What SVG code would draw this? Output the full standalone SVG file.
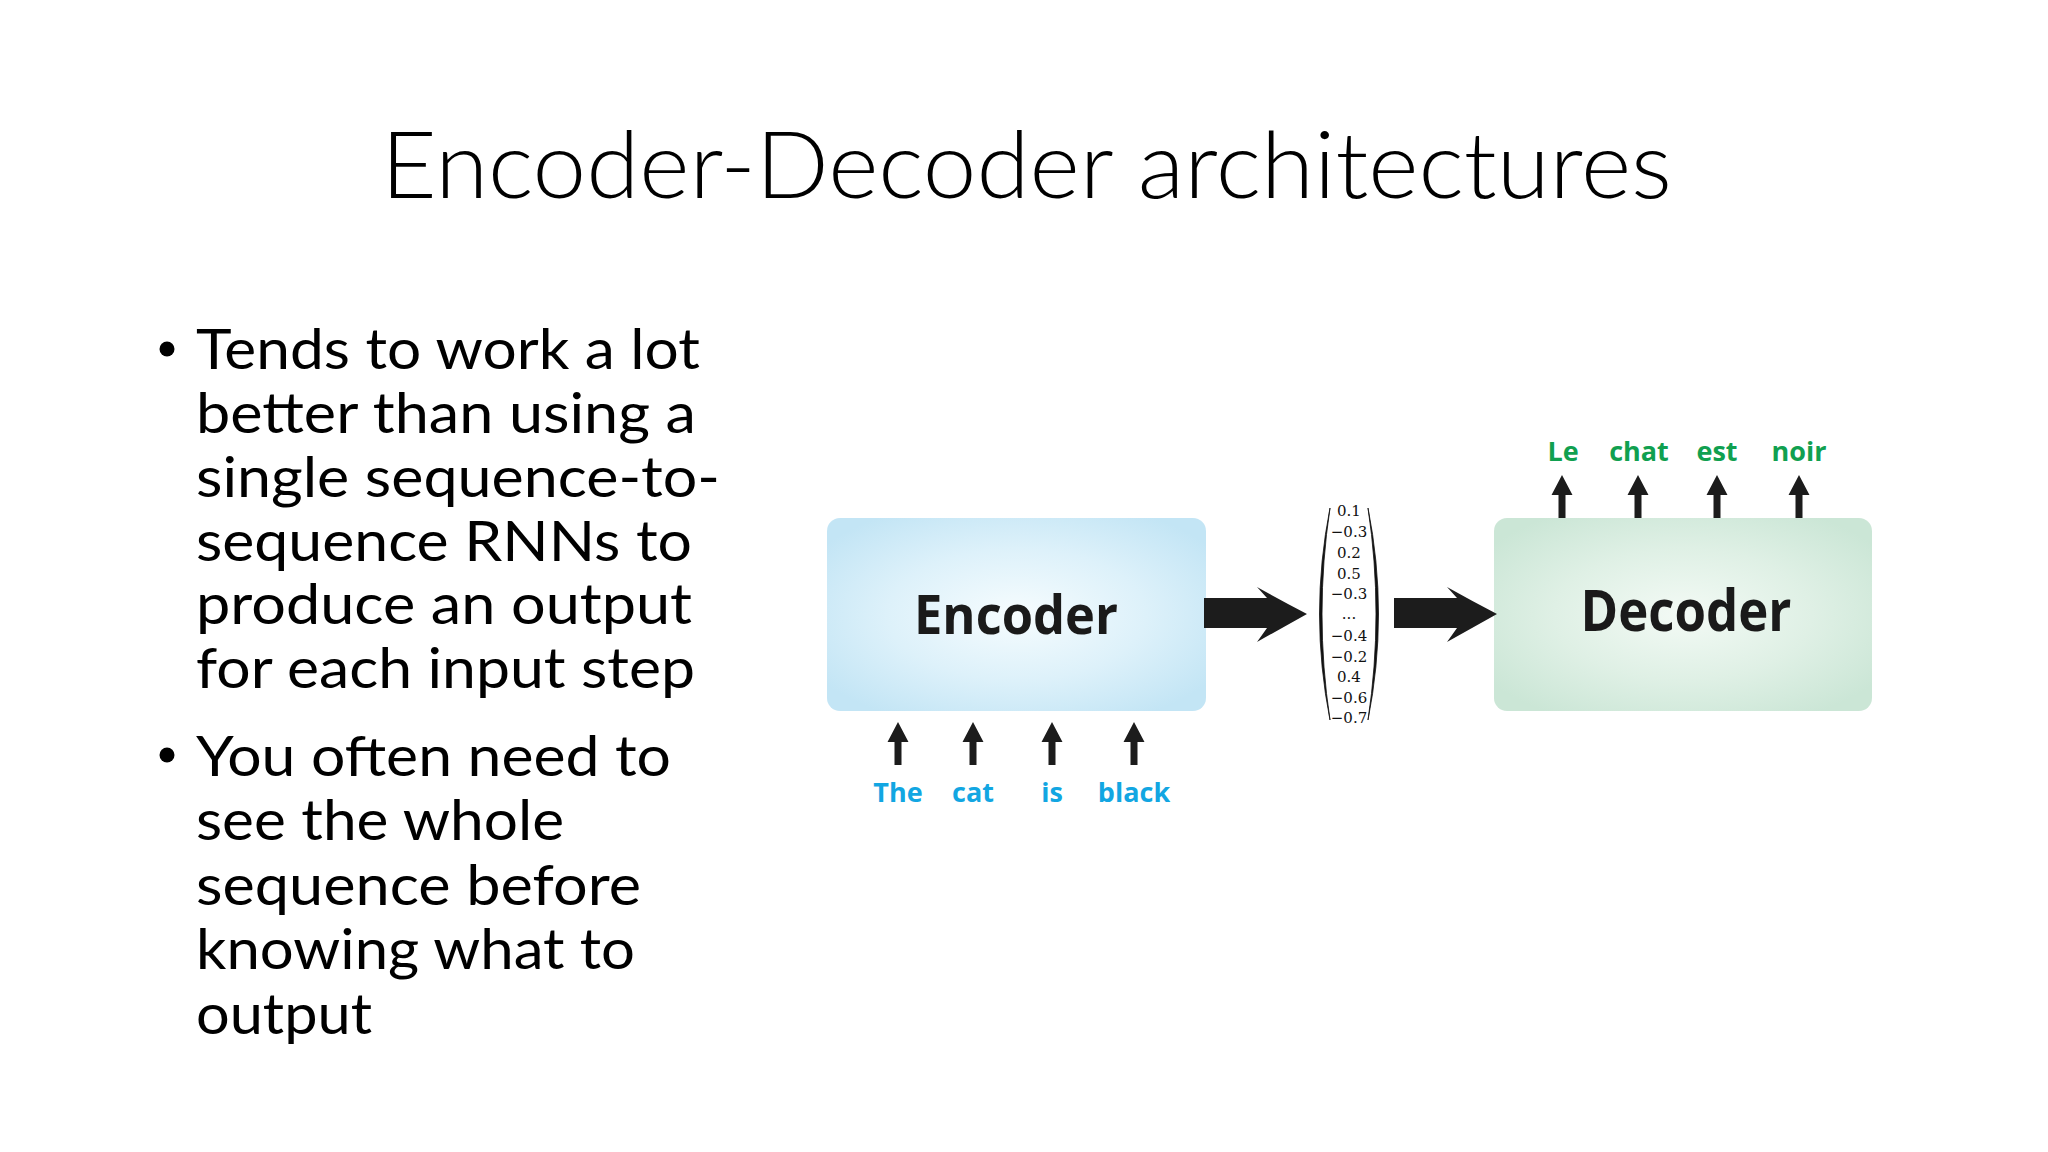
<svg xmlns="http://www.w3.org/2000/svg" width="2048" height="1152" viewBox="0 0 2048 1152">
<defs>
<style>
.title{font-family:Lato,"Noto Sans","Liberation Sans",sans-serif;font-size:92px;font-weight:300;fill:#000}
.body{font-family:Lato,"Noto Sans","Liberation Sans",sans-serif;font-size:57px;fill:#000}
.box{font-family:"Open Sans","Noto Sans","Liberation Sans",sans-serif;font-weight:700;fill:#1a1a1a;text-anchor:middle}
.in{font-family:"Open Sans","Noto Sans","Liberation Sans",sans-serif;font-weight:700;font-size:27px;fill:#12a6e2;text-anchor:middle}
.out{font-family:"Open Sans","Noto Sans","Liberation Sans",sans-serif;font-weight:700;font-size:27px;fill:#10a050;text-anchor:middle}
.vec{font-family:"DejaVu Serif","Liberation Serif",serif;font-size:15px;fill:#111;text-anchor:middle}
.arr{fill:#1c1c1c}
</style>
<radialGradient id="gb" cx="0.5" cy="0.5" r="0.62">
<stop offset="0" stop-color="#f6fcfe"/>
<stop offset="0.55" stop-color="#ddf1fa"/>
<stop offset="1" stop-color="#c3e5f5"/>
</radialGradient>
<radialGradient id="gg" cx="0.5" cy="0.5" r="0.62">
<stop offset="0" stop-color="#f3faf5"/>
<stop offset="0.55" stop-color="#dff0e5"/>
<stop offset="1" stop-color="#cbe6d6"/>
</radialGradient>
<path id="sa" d="M-3.5,0 L-3.5,-23 L-10.5,-23 L0,-43 L10.5,-23 L3.5,-23 L3.5,0 Z"/>
</defs>

<text class="title" x="381" y="198" textLength="1291" lengthAdjust="spacingAndGlyphs">Encoder-Decoder architectures</text>

<g id="bullets">
<circle cx="167" cy="349" r="7.5" fill="#000"/>
<text class="body" x="196" y="369" textLength="504" lengthAdjust="spacingAndGlyphs">Tends to work a lot</text>
<text class="body" x="196" y="433" textLength="500" lengthAdjust="spacingAndGlyphs">better than using a</text>
<text class="body" x="196" y="497" textLength="524" lengthAdjust="spacingAndGlyphs">single sequence-to-</text>
<text class="body" x="196" y="561" textLength="496" lengthAdjust="spacingAndGlyphs">sequence RNNs to</text>
<text class="body" x="196" y="624" textLength="496" lengthAdjust="spacingAndGlyphs">produce an output</text>
<text class="body" x="196" y="688" textLength="499" lengthAdjust="spacingAndGlyphs">for each input step</text>
<circle cx="167" cy="755" r="7.5" fill="#000"/>
<text class="body" x="196" y="776" textLength="475" lengthAdjust="spacingAndGlyphs">You often need to</text>
<text class="body" x="196" y="840" textLength="368" lengthAdjust="spacingAndGlyphs">see the whole</text>
<text class="body" x="196" y="905" textLength="445" lengthAdjust="spacingAndGlyphs">sequence before</text>
<text class="body" x="196" y="969" textLength="439" lengthAdjust="spacingAndGlyphs">knowing what to</text>
<text class="body" x="196" y="1034" textLength="176" lengthAdjust="spacingAndGlyphs">output</text>
</g>

<g id="encoder">
<rect x="827" y="518" width="379" height="193" rx="13" fill="url(#gb)"/>
<text class="box" x="1016" y="634" font-size="54" textLength="204" lengthAdjust="spacingAndGlyphs">Encoder</text>
</g>

<g id="vector">
<path d="M1330,508 Q1309,614 1330,720 Q1314,614 1330,508 Z" fill="#111" stroke="#111" stroke-width="0.8"/>
<path d="M1368,508 Q1389,614 1368,720 Q1384,614 1368,508 Z" fill="#111" stroke="#111" stroke-width="0.8"/>
<text class="vec" x="1349" y="516">0.1</text>
<text class="vec" x="1349" y="537">−0.3</text>
<text class="vec" x="1349" y="558">0.2</text>
<text class="vec" x="1349" y="579">0.5</text>
<text class="vec" x="1349" y="599">−0.3</text>
<text class="vec" x="1349" y="619">...</text>
<text class="vec" x="1349" y="641">−0.4</text>
<text class="vec" x="1349" y="662">−0.2</text>
<text class="vec" x="1349" y="682">0.4</text>
<text class="vec" x="1349" y="703">−0.6</text>
<text class="vec" x="1349" y="723">−0.7</text>
</g>

<g id="decoder">
<rect x="1494" y="518" width="378" height="193" rx="13" fill="url(#gg)"/>
<text class="box" x="1686" y="631" font-size="57" textLength="211" lengthAdjust="spacingAndGlyphs">Decoder</text>
</g>

<g id="input-labels">
<text class="in" x="898" y="802">The</text>
<text class="in" x="973" y="802">cat</text>
<text class="in" x="1052" y="802">is</text>
<text class="in" x="1134" y="802">black</text>
</g>

<g id="output-labels">
<text class="out" x="1563" y="461">Le</text>
<text class="out" x="1639" y="461">chat</text>
<text class="out" x="1717" y="461">est</text>
<text class="out" x="1799" y="461">noir</text>
</g>

<g id="connectors">
<path class="arr" d="M1204,598 L1267,598 L1257,587 Q1282,601 1307,614 Q1282,628 1257,642 L1267,628 L1204,628 Z"/>
<path class="arr" d="M1394,598 L1457,598 L1447,587 Q1472,601 1497,614 Q1472,628 1447,642 L1457,628 L1394,628 Z"/>
<use href="#sa" class="arr" x="898" y="765"/>
<use href="#sa" class="arr" x="973" y="765"/>
<use href="#sa" class="arr" x="1052" y="765"/>
<use href="#sa" class="arr" x="1134" y="765"/>
<use href="#sa" class="arr" x="1562" y="518"/>
<use href="#sa" class="arr" x="1638" y="518"/>
<use href="#sa" class="arr" x="1717" y="518"/>
<use href="#sa" class="arr" x="1799" y="518"/>
</g>
</svg>
